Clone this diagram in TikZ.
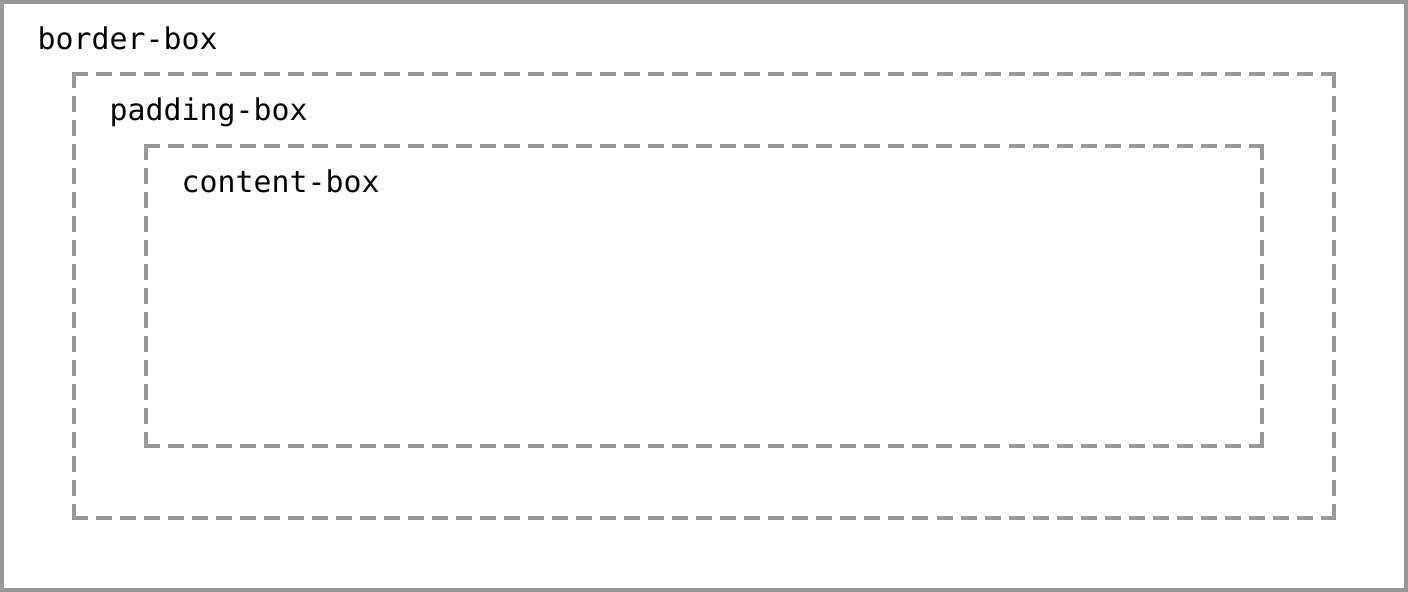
\documentclass[tikz,border=0pt]{standalone}
\usepackage{fontspec}
\setmonofont{DejaVu Sans Mono}
\definecolor{boxgray}{HTML}{98989C}
\tikzset{
  boxline/.style={draw=boxgray, line width=0.4mm},
  dashbox/.style={boxline, dash pattern=on 1.6mm off 0.8mm},
  boxlabel/.style={anchor=base west, inner sep=0pt, font=\ttfamily\fontsize{8.5}{10}\selectfont}
}
\begin{document}
\begin{tikzpicture}[x=0.01cm, y=-0.01cm]
    \useasboundingbox (0,0) rectangle (1408,592);

    % Draw the outer border box
    \draw[boxline] (2,2) rectangle (1406,590);
    \node[boxlabel] (border-box) at (37,50) {border-box};

    % Draw the dashed boxes side by side, with their labels
    \foreach \xa/\ya/\xb/\yb/\label in {72/72/1336/520/padding-box, 144/144/1264/448/content-box} {
        \draw[dashbox] (\xa,\ya+2) -- (\xb,\ya+2);
        \draw[dashbox] (\xa,\yb-2) -- (\xb,\yb-2);
        \draw[dashbox] (\xa+2,\ya) -- (\xa+2,\yb);
        \draw[dashbox] (\xb-2,\ya) -- (\xb-2,\yb);
        \node[boxlabel] (\label) at (\xa+37,\ya+49) {\label};
    }
\end{tikzpicture}
\end{document}
